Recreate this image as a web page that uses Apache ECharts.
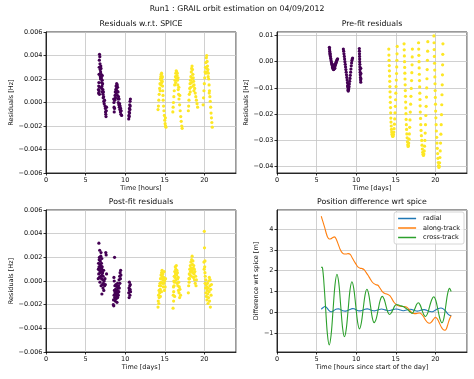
<!DOCTYPE html>
<html><head><meta charset="utf-8">
<script src="https://cdn.jsdelivr.net/npm/echarts@6/dist/echarts.min.js"></script>
<style>html,body{margin:0;padding:0;background:#fff}#c{width:474px;height:379px}</style>
</head><body><div id="c"></div>
<script>
const mainTitle = 'Run1 : GRAIL orbit estimation on 04/09/2012';
const panelTitles = ['Residuals w.r.t. SPICE', 'Pre-fit residuals', 'Post-fit residuals', 'Position difference wrt spice'];
const xLabels = ['Time [hours]', 'Time [days]', 'Time [days]', 'Time [hours since start of the day]'];
const yLabels = ['Residuals [Hz]', 'Residuals [Hz]', 'Residuals [Hz]', 'Difference wrt spice [m]'];
const lineNames = ['radial', 'along-track', 'cross-track'];

// Panel 1: residuals w.r.t. SPICE
const spicePurple = [
[6.62,0.0011],[6.64,0.0008],[6.66,0.0014],[6.68,0.0017],[6.70,0.0024],[6.72,0.0030],[6.74,0.0036],[6.76,0.0041],[6.80,0.0039],[6.82,0.0033],[6.84,0.0028],[6.86,0.0022],[6.88,0.0020],[6.90,0.0026],[6.92,0.0031],[6.95,0.0029],[6.97,0.0024],[7.00,0.0021],[7.02,0.0017],[7.04,0.0012],[7.06,0.0009],[7.08,0.0014],[7.10,0.0019],[7.12,0.0023],[7.15,0.0016],[7.18,0.0011],[7.20,0.0007],[7.22,0.0004],[7.25,0.0009],[7.28,0.0005],[7.30,0.0001],[7.35,-0.0001],[7.40,0.0002],[7.45,-0.0003],[7.50,-0.0005],[7.52,-0.0008],[7.55,-0.0010],[7.58,-0.0012],[7.62,-0.0007],[7.65,-0.0004],[6.70,0.0010],[6.75,0.0007],[6.80,0.0013],
[8.55,0.0003],[8.58,0.0000],[8.60,-0.0004],[8.62,-0.0008],[8.65,-0.0005],[8.68,0.0002],[8.72,0.0006],[8.75,0.0009],[8.78,0.0004],[8.82,0.0011],[8.85,0.0014],[8.88,0.0008],[8.90,0.0012],[8.93,0.0016],[8.96,0.0010],[9.00,0.0015],[9.02,0.0006],[9.05,0.0013],[9.08,0.0003],[9.10,0.0009],[9.13,0.0000],[9.16,0.0005],[9.20,-0.0002],[9.23,0.0003],[9.26,-0.0004],[9.30,-0.0001],[9.33,-0.0006],[9.36,-0.0003],[9.40,-0.0008],[9.43,-0.0005],[9.46,-0.0010],[9.50,-0.0007],[9.55,-0.0011],
[10.45,-0.0014],[10.47,-0.0011],[10.50,-0.0008],[10.52,-0.0012],[10.54,-0.0005],[10.56,-0.0009],[10.58,-0.0002],[10.60,-0.0006],[10.62,0.0001],[10.64,-0.0003],[10.66,0.0003]
];
const spiceYellow = [
[14.15,-0.0006],[14.20,-0.0003],[14.25,0.0002],[14.30,0.0007],[14.35,0.0012],[14.40,0.0016],[14.45,0.0020],[14.50,0.0022],[14.55,0.0024],[14.60,0.0025],[14.65,0.0021],[14.68,0.0018],[14.72,0.0014],[14.75,0.0010],[14.78,0.0006],[14.80,0.0002],[14.85,-0.0003],[14.90,-0.0007],[14.95,-0.0011],[15.00,-0.0015],[15.05,-0.0018],[15.10,-0.0020],[15.15,-0.0021],[14.42,0.0010],[14.52,0.0015],[14.62,0.0017],[14.70,0.0022],[14.58,0.0019],[15.08,-0.0013],
[16.02,-0.0008],[16.06,-0.0004],[16.10,0.0000],[16.15,0.0005],[16.20,0.0010],[16.25,0.0015],[16.30,0.0019],[16.35,0.0022],[16.40,0.0025],[16.45,0.0027],[16.50,0.0026],[16.55,0.0023],[16.60,0.0019],[16.65,0.0015],[16.70,0.0011],[16.75,0.0007],[16.80,0.0003],[16.88,-0.0002],[16.95,-0.0007],[17.02,-0.0012],[17.08,-0.0016],[17.15,-0.0020],[17.20,-0.0022],[16.38,0.0017],[16.48,0.0020],[16.58,0.0025],[16.68,0.0021],[16.78,0.0013],[16.90,0.0006],
[17.98,-0.0007],[18.02,-0.0003],[18.06,0.0002],[18.10,0.0007],[18.15,0.0012],[18.20,0.0016],[18.25,0.0019],[18.30,0.0022],[18.35,0.0026],[18.40,0.0029],[18.45,0.0031],[18.50,0.0028],[18.55,0.0024],[18.60,0.0021],[18.65,0.0018],[18.70,0.0015],[18.78,0.0012],[18.85,0.0008],[18.92,0.0005],[19.00,0.0002],[19.08,-0.0001],[19.15,-0.0004],[18.28,0.0013],[18.38,0.0017],[18.48,0.0020],[18.58,0.0014],[18.68,0.0010],[18.22,0.0009],
[19.85,-0.0002],[19.90,0.0004],[19.95,0.0010],[20.00,0.0016],[20.05,0.0021],[20.10,0.0026],[20.15,0.0030],[20.20,0.0034],[20.25,0.0038],[20.30,0.0040],[20.35,0.0035],[20.40,0.0031],[20.45,0.0028],[20.50,0.0025],[20.55,0.0020],[20.60,0.0015],[20.65,0.0010],[20.70,0.0005],[20.75,0.0001],[20.80,-0.0004],[20.85,-0.0009],[20.90,-0.0013],[20.95,-0.0017],[21.00,-0.0021],[20.18,0.0025],[20.28,0.0029],[20.38,0.0026],[20.48,0.0022],[20.62,0.0008]
];

// Panel 2: pre-fit residuals
const prePurple = [
[6.62,0.0055],[6.64,0.0048],[6.66,0.0040],[6.68,0.0033],[6.70,0.0026],[6.72,0.0030],[6.75,0.0020],[6.78,0.0013],[6.82,0.0006],[6.86,0.0000],[6.90,-0.0006],[6.94,-0.0011],[6.98,-0.0016],[7.02,-0.0021],[7.06,-0.0025],[7.10,-0.0028],[7.14,-0.0030],[7.18,-0.0029],[7.22,-0.0026],[7.26,-0.0022],[7.30,-0.0018],[7.34,-0.0014],[7.38,-0.0010],[7.42,-0.0006],[7.46,-0.0003],[7.50,0.0000],[7.55,0.0004],[7.60,0.0008],[7.65,0.0011],[7.00,-0.0010],[7.10,-0.0018],[7.20,-0.0020],[7.30,-0.0025],
[8.38,0.0048],[8.42,0.0040],[8.46,0.0030],[8.50,0.0020],[8.54,0.0010],[8.58,0.0000],[8.62,-0.0010],[8.66,-0.0020],[8.70,-0.0030],[8.74,-0.0040],[8.78,-0.0050],[8.82,-0.0060],[8.86,-0.0070],[8.90,-0.0080],[8.94,-0.0090],[8.98,-0.0100],[9.02,-0.0108],[9.06,-0.0104],[9.10,-0.0095],[9.14,-0.0085],[9.18,-0.0075],[9.22,-0.0064],[9.26,-0.0052],[9.30,-0.0040],[9.34,-0.0028],[9.38,-0.0016],[9.42,-0.0005],[9.46,0.0004],[9.50,0.0010],[9.55,0.0014],[8.96,-0.0108],[9.00,-0.0112],[9.04,-0.0098],[8.92,-0.0095],
[10.40,0.0050],[10.41,0.0040],[10.42,0.0030],[10.43,0.0020],[10.44,0.0010],[10.45,0.0000],[10.46,-0.0010],[10.47,-0.0020],[10.48,-0.0030],[10.50,-0.0040],[10.52,-0.0050],[10.54,-0.0060],[10.56,-0.0070],[10.58,-0.0078],[10.60,-0.0065],[10.60,-0.0045],[10.58,-0.0025]
];
const preYellow = [
[14.12,0.0048],[14.14,0.0025],[14.16,0.0005],[14.18,-0.0015],[14.20,-0.0035],[14.22,-0.0055],[14.24,-0.0075],[14.26,-0.0095],[14.28,-0.0115],[14.30,-0.0135],[14.32,-0.0155],[14.34,-0.0175],[14.36,-0.0195],[14.38,-0.0215],[14.40,-0.0230],[14.43,-0.0245],[14.46,-0.0258],[14.49,-0.0268],[14.53,-0.0276],[14.57,-0.0282],[14.62,-0.0285],[14.67,-0.0283],[14.71,-0.0277],[14.75,-0.0268],[14.79,-0.0255],[14.83,-0.0238],[14.87,-0.0218],[14.91,-0.0195],[14.95,-0.0170],[14.98,-0.0145],[15.01,-0.0120],[15.04,-0.0095],[15.07,-0.0070],[15.10,-0.0045],[15.12,-0.0020],[15.14,0.0005],[15.16,0.0030],[15.18,0.0058],
[16.05,0.0068],[16.07,0.0045],[16.09,0.0022],[16.11,0.0000],[16.13,-0.0022],[16.15,-0.0044],[16.17,-0.0066],[16.19,-0.0088],[16.21,-0.0110],[16.23,-0.0132],[16.25,-0.0154],[16.27,-0.0176],[16.29,-0.0198],[16.31,-0.0220],[16.34,-0.0240],[16.37,-0.0258],[16.40,-0.0275],[16.44,-0.0290],[16.48,-0.0305],[16.52,-0.0316],[16.56,-0.0323],[16.60,-0.0320],[16.64,-0.0310],[16.68,-0.0295],[16.72,-0.0275],[16.76,-0.0250],[16.80,-0.0222],[16.84,-0.0192],[16.88,-0.0162],[16.92,-0.0132],[16.96,-0.0102],[17.00,-0.0072],[17.03,-0.0042],[17.06,-0.0012],[17.08,0.0018],[17.10,0.0048],
[17.88,0.0072],[17.90,0.0048],[17.92,0.0024],[17.94,0.0000],[17.96,-0.0024],[17.98,-0.0048],[18.00,-0.0072],[18.02,-0.0096],[18.04,-0.0120],[18.06,-0.0144],[18.08,-0.0168],[18.10,-0.0192],[18.13,-0.0216],[18.16,-0.0240],[18.20,-0.0262],[18.24,-0.0282],[18.28,-0.0300],[18.32,-0.0318],[18.36,-0.0333],[18.40,-0.0345],[18.45,-0.0353],[18.50,-0.0357],[18.55,-0.0352],[18.60,-0.0340],[18.64,-0.0322],[18.68,-0.0300],[18.72,-0.0272],[18.76,-0.0240],[18.80,-0.0205],[18.84,-0.0170],[18.88,-0.0135],[18.91,-0.0100],[18.94,-0.0065],[18.97,-0.0030],[19.00,0.0005],[19.03,0.0040],[19.05,0.0076],
[19.82,0.0098],[19.84,0.0072],[19.86,0.0046],[19.88,0.0020],[19.90,-0.0006],[19.92,-0.0032],[19.94,-0.0058],[19.96,-0.0084],[19.98,-0.0110],[20.00,-0.0136],[20.02,-0.0162],[20.04,-0.0188],[20.07,-0.0214],[20.10,-0.0240],[20.13,-0.0264],[20.17,-0.0288],[20.21,-0.0310],[20.25,-0.0330],[20.29,-0.0350],[20.33,-0.0368],[20.37,-0.0384],[20.41,-0.0396],[20.45,-0.0403],[20.50,-0.0398],[20.54,-0.0385],[20.58,-0.0365],[20.62,-0.0340],[20.66,-0.0310],[20.70,-0.0276],[20.74,-0.0240],[20.78,-0.0202],[20.81,-0.0164],[20.84,-0.0126],[20.87,-0.0088],[20.90,-0.0050],[20.92,-0.0012],[20.94,0.0028],[20.96,0.0068]
];

// Panel 3: post-fit residuals
const postPurple = [
[6.60,0.0002],[6.62,0.0010],[6.64,0.0015],[6.66,0.0006],[6.68,0.0032],[6.70,0.0012],[6.72,0.0018],[6.74,0.0003],[6.76,0.0009],[6.78,0.0026],[6.80,0.0014],[6.82,-0.0001],[6.84,0.0007],[6.86,0.0017],[6.88,0.0011],[6.90,0.0004],[6.92,0.0021],[6.94,0.0013],[6.96,-0.0004],[6.98,0.0008],[7.00,0.0015],[7.02,0.0002],[7.04,0.0010],[7.06,-0.0011],[7.08,0.0005],[7.10,0.0012],[7.12,-0.0003],[7.15,0.0007],[7.18,0.0001],[7.20,-0.0006],[7.22,0.0004],[7.25,-0.0002],[7.28,0.0009],[7.30,-0.0008],[7.35,0.0000],[7.40,-0.0004],[7.45,0.0002],[7.50,-0.0003],[7.55,0.0024],[7.60,0.0022],[7.65,0.0006],[6.75,0.0020],[6.95,0.0024],[7.05,0.0019],
[8.50,-0.0020],[8.53,-0.0016],[8.56,-0.0021],[8.58,0.0003],[8.60,-0.0012],[8.62,0.0000],[8.64,-0.0008],[8.66,0.0020],[8.68,-0.0014],[8.70,-0.0004],[8.72,-0.0010],[8.75,-0.0017],[8.78,-0.0007],[8.80,-0.0012],[8.83,-0.0003],[8.86,-0.0015],[8.89,-0.0009],[8.92,-0.0011],[8.95,-0.0005],[8.98,-0.0013],[9.01,-0.0008],[9.04,-0.0002],[9.07,-0.0010],[9.10,-0.0006],[9.13,-0.0012],[9.16,-0.0004],[9.20,-0.0009],[9.23,0.0001],[9.26,-0.0006],[9.30,0.0004],[9.33,-0.0002],[9.36,0.0007],[9.40,0.0002],[9.43,0.0009],[9.46,0.0005],[8.97,-0.0018],[9.05,-0.0014],
[10.45,-0.0010],[10.48,-0.0006],[10.50,-0.0014],[10.53,-0.0001],[10.55,-0.0008],[10.58,-0.0004],[10.60,-0.0012],[10.62,-0.0007],[10.65,-0.0003],[10.68,-0.0009]
];
const postYellow = [
[14.15,-0.0022],[14.18,-0.0017],[14.22,-0.0012],[14.25,-0.0019],[14.28,-0.0008],[14.30,-0.0014],[14.33,-0.0004],[14.36,-0.0010],[14.40,-0.0002],[14.43,-0.0007],[14.46,0.0002],[14.50,-0.0004],[14.53,0.0005],[14.56,-0.0001],[14.60,0.0007],[14.63,0.0002],[14.66,0.0009],[14.70,0.0004],[14.73,-0.0002],[14.76,0.0006],[14.80,0.0001],[14.83,-0.0005],[14.86,0.0003],[14.90,-0.0002],[14.93,0.0008],[14.96,-0.0008],[15.00,0.0000],[15.05,-0.0005],[15.10,0.0002],[14.45,-0.0013],[14.58,-0.0009],
[16.05,-0.0023],[16.08,-0.0012],[16.10,-0.0005],[16.13,-0.0009],[16.15,0.0000],[16.18,-0.0004],[16.20,0.0004],[16.23,-0.0001],[16.26,0.0008],[16.30,0.0003],[16.33,0.0012],[16.36,0.0006],[16.40,0.0010],[16.43,0.0001],[16.46,0.0013],[16.50,0.0005],[16.53,0.0009],[16.56,-0.0002],[16.60,0.0007],[16.63,0.0002],[16.66,-0.0004],[16.70,0.0003],[16.73,-0.0008],[16.76,-0.0001],[16.80,-0.0010],[16.84,-0.0005],[16.88,-0.0014],[16.92,-0.0007],[17.00,-0.0012],[16.12,-0.0017],[16.25,-0.0013],
[17.98,-0.0010],[18.02,-0.0004],[18.05,0.0002],[18.08,-0.0001],[18.10,0.0006],[18.13,0.0002],[18.16,0.0010],[18.20,0.0005],[18.23,0.0013],[18.26,0.0008],[18.30,0.0016],[18.33,0.0011],[18.36,0.0004],[18.40,0.0018],[18.43,0.0009],[18.46,0.0021],[18.50,0.0014],[18.53,0.0007],[18.56,0.0017],[18.60,0.0011],[18.63,0.0003],[18.66,0.0013],[18.70,0.0006],[18.73,0.0010],[18.76,0.0001],[18.80,0.0008],[18.85,-0.0002],[18.90,0.0004],[18.95,-0.0004],[19.00,0.0001],
[19.95,0.0016],[20.00,0.0042],[20.02,0.0028],[20.05,0.0012],[20.08,0.0007],[20.10,-0.0002],[20.12,0.0004],[20.15,-0.0006],[20.18,0.0001],[20.20,-0.0010],[20.23,-0.0003],[20.26,-0.0013],[20.30,-0.0005],[20.33,-0.0016],[20.36,-0.0008],[20.40,-0.0002],[20.43,-0.0011],[20.46,-0.0019],[20.50,-0.0006],[20.53,-0.0014],[20.56,0.0000],[20.60,-0.0009],[20.63,0.0003],[20.66,-0.0017],[20.70,-0.0004],[20.73,0.0001],[20.76,-0.0022],[20.80,-0.0007],[20.85,-0.0012],[20.90,-0.0003],[19.98,0.0010],[20.08,0.0017]
];

// Panel 4: position difference [m]
const radial = [
[5.6,0.15],[5.8,0.22],[6.05,0.28],[6.3,0.22],[6.55,0.10],[6.8,0.03],[7.05,0.06],[7.3,0.12],[7.55,0.16],[7.8,0.17],[8.05,0.13],[8.3,0.08],[8.6,0.06],[8.9,0.09],[9.2,0.14],[9.5,0.18],[9.75,0.17],[10.0,0.12],[10.25,0.08],[10.5,0.07],[10.8,0.10],[11.1,0.15],[11.4,0.17],[11.7,0.14],[12.0,0.09],[12.3,0.07],[12.6,0.10],[12.9,0.14],[13.2,0.16],[13.5,0.14],[13.8,0.10],[14.1,0.08],[14.4,0.10],[14.7,0.14],[15.0,0.16],[15.3,0.15],[15.6,0.11],[15.9,0.08],[16.2,0.10],[16.5,0.13],[16.8,0.15],[17.1,0.13],[17.4,0.09],[17.7,0.06],[18.0,0.08],[18.3,0.12],[18.6,0.13],[18.9,0.10],[19.2,0.05],[19.5,0.03],[19.8,0.06],[20.1,0.13],[20.4,0.19],[20.7,0.21],[21.0,0.17],[21.3,0.06],[21.6,-0.08],[21.9,-0.15],[22.0,-0.13]
];
const alongTrack = [
[5.59,4.61],[5.8,4.35],[6.0,4.10],[6.2,3.82],[6.4,3.60],[6.6,3.52],[6.8,3.53],[7.0,3.58],[7.25,3.62],[7.5,3.50],[7.75,3.25],[8.0,3.00],[8.25,2.85],[8.5,2.80],[8.75,2.80],[9.0,2.82],[9.25,2.78],[9.5,2.62],[9.75,2.45],[10.0,2.30],[10.25,2.17],[10.5,2.12],[10.75,2.10],[11.0,2.05],[11.25,1.92],[11.5,1.78],[11.75,1.62],[12.0,1.47],[12.25,1.38],[12.5,1.33],[12.75,1.30],[13.0,1.17],[13.25,1.02],[13.5,0.93],[13.75,0.89],[14.0,0.86],[14.25,0.80],[14.5,0.66],[14.75,0.50],[15.0,0.40],[15.25,0.33],[15.5,0.30],[15.75,0.28],[16.0,0.28],[16.25,0.27],[16.5,0.22],[16.75,0.10],[17.0,0.00],[17.25,-0.05],[17.5,-0.06],[17.75,-0.04],[18.0,-0.03],[18.25,-0.08],[18.5,-0.20],[18.75,-0.36],[19.0,-0.48],[19.25,-0.52],[19.5,-0.47],[19.75,-0.34],[20.0,-0.24],[20.25,-0.31],[20.5,-0.50],[20.75,-0.70],[21.0,-0.83],[21.2,-0.86],[21.4,-0.78],[21.6,-0.55],[21.8,-0.32],[22.0,-0.15]
];
const crossTrack = [
[5.59,2.15],[5.68,2.18],[5.76,2.10],[5.89,1.61],[6.125,0.30],[6.36,-1.02],[6.6,-1.56],[6.84,-1.06],[7.085,0.14],[7.33,1.33],[7.57,1.83],[7.81,1.39],[8.045,0.33],[8.28,-0.73],[8.52,-1.17],[8.755,-0.78],[8.99,0.15],[9.225,1.08],[9.46,1.47],[9.70,1.14],[9.94,0.34],[10.18,-0.46],[10.42,-0.79],[10.65,-0.51],[10.885,0.16],[11.12,0.83],[11.35,1.11],[11.58,0.88],[11.81,0.31],[12.04,-0.26],[12.27,-0.49],[12.53,-0.31],[12.785,0.14],[13.04,0.59],[13.3,0.77],[13.525,0.64],[13.75,0.34],[13.975,0.03],[14.2,-0.10],[14.425,-0.03],[14.65,0.14],[14.875,0.31],[15.1,0.38],[15.5,0.33],[16.0,0.27],[16.5,0.13],[16.8,0.02],[17.05,-0.05],[17.25,0.03],[17.45,0.21],[17.65,0.39],[17.85,0.46],[18.075,0.36],[18.3,0.13],[18.525,-0.10],[18.75,-0.20],[19.01,-0.06],[19.275,0.28],[19.54,0.61],[19.8,0.75],[20.06,0.57],[20.325,0.13],[20.59,-0.32],[20.85,-0.50],[21.09,-0.26],[21.325,0.33],[21.56,0.91],[21.8,1.15],[21.95,1.05],[22.0,1.00]
];

const PURPLE = '#440154', YELLOW = '#fde725';
const FONT = 'DejaVu Sans';
const chart = echarts.init(document.getElementById('c'), null, {renderer: 'canvas'});

const grids = [
  {left: 46, top: 32, width: 190, height: 141},
  {left: 277, top: 32, width: 190, height: 141},
  {left: 46, top: 210, width: 190, height: 142},
  {left: 277, top: 210, width: 190, height: 142}
];
const yNameGap = [31, 27, 31, 16];
function fmt(d) {
  return function (v) {
    if (Math.abs(v) < 1e-12) v = 0;
    return v.toFixed(d).replace('-', '\u2212');
  };
}
const yCfg = [
  {min: -0.006, max: 0.006, interval: 0.002, f: fmt(3)},
  {min: -0.0424, max: 0.0113, f: fmt(2)},
  {min: -0.006, max: 0.006, interval: 0.002, f: fmt(3)},
  {min: -1.9, max: 4.91, f: fmt(0)}
];
const common = {
  axisLine: {show: true, onZero: false, lineStyle: {color: '#000', width: 0.8}},
  axisTick: {show: true, length: 2.5, lineStyle: {color: '#000', width: 0.8}},
  splitLine: {show: true, lineStyle: {color: '#c4c4c4', width: 0.8}},
  nameTextStyle: {fontFamily: FONT, fontSize: 6.5, color: '#111'}
};
const xAxes = grids.map((g, i) => Object.assign({}, common, {
  type: 'value', gridIndex: i, min: 0, max: 24, interval: 5,
  name: xLabels[i], nameLocation: 'middle', nameGap: 12,
  axisLabel: {fontFamily: FONT, fontSize: 6.5, color: '#111', margin: 3.5, showMaxLabel: false}
}));
const yAxes = grids.map((g, i) => {
  const c = yCfg[i];
  const ax = Object.assign({}, common, {
    type: 'value', gridIndex: i, min: c.min, max: c.max,
    name: yLabels[i], nameLocation: 'middle', nameGap: yNameGap[i], nameRotate: 90,
    axisLabel: {fontFamily: FONT, fontSize: 6.5, color: '#111', margin: 3.5, formatter: c.f,
      showMinLabel: c.interval ? true : false, showMaxLabel: c.interval ? true : false}
  });
  if (c.interval) ax.interval = c.interval;
  return ax;
});

function scat(data, color, idx) {
  return {type: 'scatter', data: data, xAxisIndex: idx, yAxisIndex: idx, symbolSize: 3.2,
    itemStyle: {color: color, opacity: 1}, silent: true, animation: false};
}
function line(name, data, color) {
  return {type: 'line', name: name, data: data, xAxisIndex: 3, yAxisIndex: 3, showSymbol: false,
    smooth: 0.35, lineStyle: {color: color, width: 1.1}, itemStyle: {color: color}, animation: false};
}

const titleCenters = [[141, 19.5], [372, 19.5], [141, 198], [372, 198]];
const titles = [{text: mainTitle, left: 237, top: 5, textAlign: 'center', padding: 0,
  textStyle: {fontFamily: FONT, fontSize: 7.8, fontWeight: 'normal', color: '#111'}}];
panelTitles.forEach((t, i) => titles.push({text: t, left: titleCenters[i][0], top: titleCenters[i][1],
  textAlign: 'center', padding: 0, textStyle: {fontFamily: FONT, fontSize: 7.8, fontWeight: 'normal', color: '#111'}}));

chart.setOption({
  animation: false,
  backgroundColor: '#fff',
  title: titles,
  grid: grids.map(g => Object.assign({show: true, borderColor: '#000', borderWidth: 0.8, backgroundColor: '#fff'}, g)),
  xAxis: xAxes,
  yAxis: yAxes,
  legend: {data: lineNames, orient: 'vertical', right: 10, top: 212, icon: 'rect', itemWidth: 18, itemHeight: 1.5,
    itemGap: 2.5, padding: [3, 4, 3, 4], borderColor: '#ccc', borderWidth: 0.8, borderRadius: 2,
    backgroundColor: 'rgba(255,255,255,0.8)', textStyle: {fontFamily: FONT, fontSize: 6.5, color: '#111', padding: [0, 0, 0, 2]}},
  series: [
    scat(spicePurple, PURPLE, 0), scat(spiceYellow, YELLOW, 0),
    scat(prePurple, PURPLE, 1), scat(preYellow, YELLOW, 1),
    scat(postPurple, PURPLE, 2), scat(postYellow, YELLOW, 2),
    line(lineNames[0], radial, '#1f77b4'),
    line(lineNames[1], alongTrack, '#ff7f0e'),
    line(lineNames[2], crossTrack, '#2ca02c')
  ]
});
</script>
</body></html>
